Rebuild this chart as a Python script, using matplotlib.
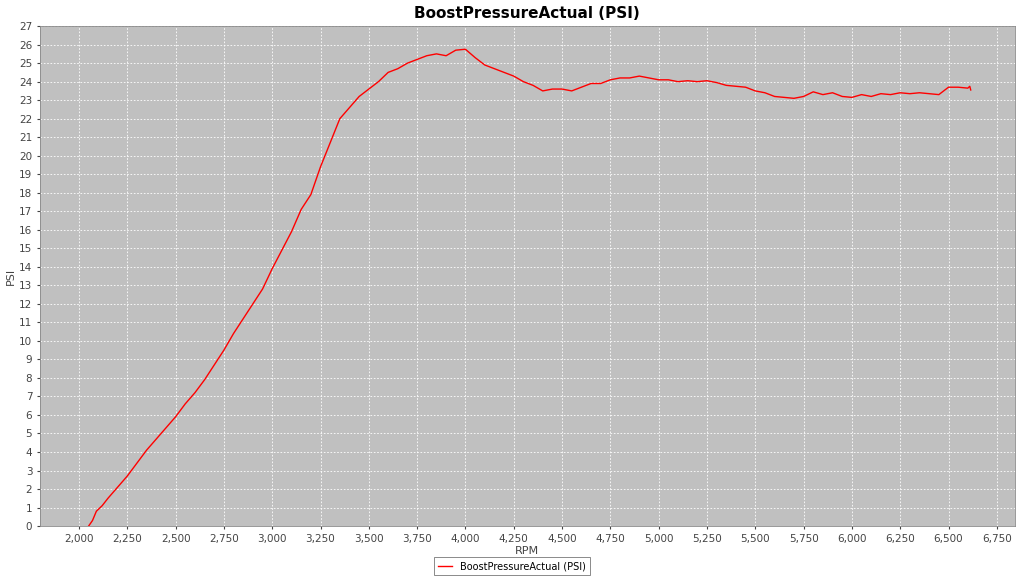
import matplotlib
matplotlib.use("Agg")
import matplotlib.pyplot as plt
from matplotlib.ticker import MultipleLocator, FuncFormatter

rpm = [2050,2070,2090,2120,2150,2200,2250,2300,2350,2400,2450,2500,2550,2600,2650,2700,2750,2800,2850,2900,2950,
       3000,3050,3100,3150,3200,3250,3300,3350,3400,3450,3500,3550,3600,3650,3700,3750,3800,3850,3900,3950,4000,
       4050,4100,4150,4200,4250,4300,4350,4400,4450,4500,4550,4600,4650,4700,4750,4800,4850,4900,4950,5000,5050,
       5100,5150,5200,5250,5300,5350,5400,5450,5500,5550,5600,5650,5700,5750,5800,5850,5900,5950,6000,6050,6100,
       6150,6200,6250,6300,6350,6400,6450,6500,6550,6600,6610,6615]
psi = [0,0.3,0.8,1.1,1.5,2.1,2.7,3.4,4.1,4.7,5.3,5.9,6.6,7.2,7.9,8.7,9.5,10.4,11.2,12.0,12.8,
       13.9,14.9,15.9,17.1,17.9,19.4,20.7,22.0,22.6,23.2,23.6,24.0,24.5,24.7,25.0,25.2,25.4,25.5,25.4,25.7,25.75,
       25.3,24.9,24.7,24.5,24.3,24.0,23.8,23.5,23.6,23.6,23.5,23.7,23.9,23.9,24.1,24.2,24.2,24.3,24.2,24.1,24.1,
       24.0,24.05,24.0,24.05,23.95,23.8,23.75,23.7,23.5,23.4,23.2,23.15,23.1,23.2,23.45,23.3,23.4,23.2,23.15,23.3,23.2,
       23.35,23.3,23.4,23.35,23.4,23.35,23.3,23.7,23.7,23.65,23.75,23.55]

fig = plt.figure(figsize=(10.24, 5.8), dpi=100)
ax = fig.add_axes([0.039, 0.093, 0.952, 0.862])
ax.set_facecolor("#c0c0c0")
ax.plot(rpm, psi, color="#ff0000", lw=1, label="BoostPressureActual (PSI)")
ax.set_xlim(1798, 6843)
ax.set_ylim(0, 27)
ax.xaxis.set_major_locator(MultipleLocator(250))
ax.yaxis.set_major_locator(MultipleLocator(1))
ax.xaxis.set_major_formatter(FuncFormatter(lambda v, p: f"{int(v):,}"))
ax.grid(True, color="white", ls=(0, (2, 2)), lw=0.6)
ax.tick_params(labelsize=7.5, colors="#444444", length=2)
for s in ax.spines.values():
    s.set_color("#888888"); s.set_linewidth(0.6)
ax.set_xlabel("RPM", fontsize=8, color="#444444", labelpad=2)
ax.set_ylabel("PSI", fontsize=8, color="#444444", labelpad=2)
ax.set_title("BoostPressureActual (PSI)", fontsize=11, fontweight="bold", pad=6)
leg = fig.legend(loc="lower center", bbox_to_anchor=(0.5, 0.0), fontsize=7, frameon=True,
                 fancybox=False, edgecolor="#555555", handlelength=1.5)
leg.get_frame().set_linewidth(0.6)
fig.savefig("out.png", dpi=100)
